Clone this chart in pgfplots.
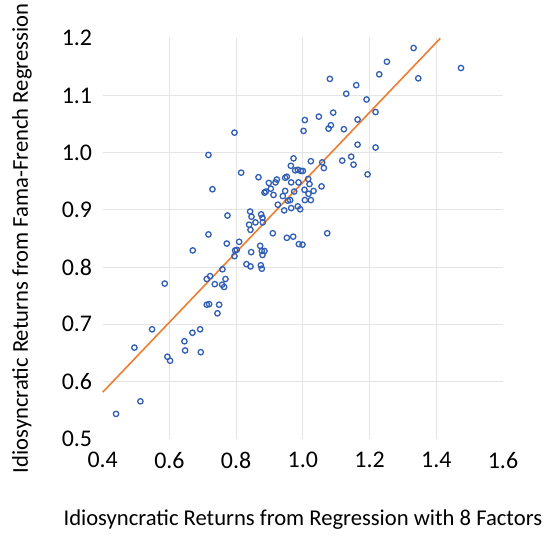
\documentclass[border=0pt]{standalone}
\usepackage{pgfplots}
\pgfplotsset{compat=1.18}
\usepackage{fontspec}
\setmainfont{Carlito}
\definecolor{mblue}{RGB}{50,95,180}
\definecolor{morange}{RGB}{237,125,49}
\definecolor{mgrid}{RGB}{228,228,228}
\begin{document}
\begin{tikzpicture}
\begin{axis}[
  scale only axis,
  width=400.3bp, height=400.2bp,
  xmin=0.4, xmax=1.6, ymin=0.5, ymax=1.2,
  axis line style={draw=none},
  tick style={draw=none},
  xtick={0.4,0.6,0.8,1.0,1.2,1.4,1.6},
  ytick={0.5,0.6,0.7,0.8,0.9,1.0,1.1,1.2},
  extra x ticks={0.6,0.8,1.0,1.2,1.4},
  extra y ticks={0.6,0.7,0.8,0.9,1.0,1.1},
  extra tick style={grid=major, xticklabels={}, yticklabels={}},
  extra x tick labels={}, extra y tick labels={},
  major grid style={mgrid, line width=0.8bp},
  /pgf/number format/assume math mode=true,
  xticklabel={\pgfmathprintnumber[fixed,fixed zerofill,precision=1]{\tick}},
  yticklabel={\pgfmathprintnumber[fixed,fixed zerofill,precision=1]{\tick}},
  ticklabel style={font=\fontsize{24}{28}\selectfont, inner sep=0pt},
  xticklabel style={anchor=north, yshift=-13.2bp},
  yticklabel style={anchor=east, xshift=-10.4bp},
  label style={font=\fontsize{22.7}{27}\selectfont},
  xlabel={Idiosyncratic Returns from Regression with 8 Factors},
  ylabel={Idiosyncratic Returns from Fama-French Regression},
  xlabel style={at={(axis description cs:0.5,0)}, anchor=center, yshift=-81.5bp},
  ylabel style={at={(axis description cs:0,0.5)}, anchor=center, yshift=80.7bp},
  clip=false,
]
\addplot[only marks, mark=o, mark size=2.7bp, mark options={mblue, line width=1.3bp}] table {
x y
1.332 1.183
1.474 1.148
1.252 1.159
1.229 1.137
1.346 1.130
1.081 1.129
1.160 1.118
1.130 1.103
1.191 1.093
1.218 1.071
1.091 1.070
1.048 1.063
1.006 1.057
1.164 1.058
1.002 1.038
1.077 1.042
1.084 1.048
1.123 1.041
1.164 1.014
1.218 1.009
1.024 0.985
1.058 0.983
1.063 0.973
1.118 0.986
1.145 0.993
1.152 0.979
1.194 0.962
1.056 0.941
1.073 0.859
0.999 0.839
0.988 0.840
0.795 1.035
0.717 0.996
0.815 0.965
0.729 0.936
0.867 0.957
0.972 0.990
0.964 0.977
0.977 0.969
0.985 0.970
0.994 0.968
1.000 0.968
0.952 0.958
0.947 0.956
0.922 0.953
0.918 0.948
0.898 0.947
0.965 0.948
0.987 0.948
0.904 0.937
0.889 0.932
0.885 0.930
0.912 0.926
0.947 0.933
0.940 0.924
0.974 0.932
1.005 0.935
0.962 0.917
0.955 0.916
0.925 0.909
0.944 0.899
0.965 0.903
0.985 0.906
0.992 0.901
0.842 0.897
0.846 0.888
0.875 0.892
0.879 0.886
0.774 0.890
1.016 0.954
1.020 0.945
1.017 0.928
1.032 0.933
1.024 0.917
1.006 0.917
0.839 0.874
0.843 0.865
0.858 0.878
0.880 0.878
0.910 0.859
0.952 0.851
0.971 0.853
0.772 0.841
0.809 0.844
0.797 0.829
0.802 0.830
0.795 0.819
0.845 0.826
0.872 0.837
0.877 0.828
0.885 0.828
0.879 0.821
0.831 0.805
0.843 0.801
0.874 0.803
0.877 0.797
0.759 0.796
0.722 0.784
0.712 0.779
0.736 0.770
0.768 0.779
0.758 0.769
0.764 0.765
0.712 0.734
0.719 0.735
0.749 0.734
0.744 0.719
0.670 0.829
0.717 0.857
0.586 0.771
0.548 0.691
0.669 0.685
0.692 0.691
0.645 0.670
0.647 0.654
0.694 0.651
0.495 0.659
0.594 0.643
0.602 0.636
0.513 0.565
0.440 0.543
};
\addplot[morange, line width=1.6bp, no marks] coordinates {(0.4,0.581) (1.412,1.2)};
\end{axis}
\pgfresetboundingbox
\path[use as bounding box] ([shift={(-102.7bp,-98.5bp)}]current axis.south west) rectangle ([shift={(47bp,38.3bp)}]current axis.north east);
\end{tikzpicture}
\end{document}
